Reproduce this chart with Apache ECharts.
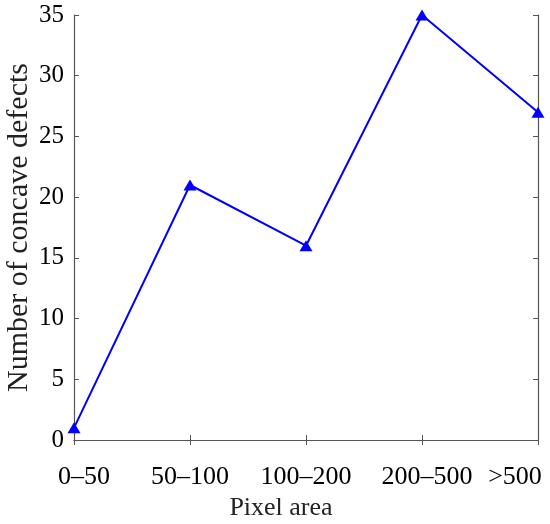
<!DOCTYPE html>
<html><head><meta charset="utf-8">
<script src="https://cdn.jsdelivr.net/npm/echarts@6/dist/echarts.min.js"></script>
<style>html,body{margin:0;padding:0;background:#fff}#c{width:550px;height:524px}</style>
</head><body><div id="c"></div>
<script>
const categories = ['0–50', '50–100', '100–200', '200–500', '>500'];
const defects = [1, 21, 16, 35, 27];
const yTicks = [0, 5, 10, 15, 20, 25, 30, 35];

const font = 'Liberation Serif';
const axisColor = '#555';
const labelStyle = { color: '#000', fontFamily: font, fontSize: 26 };
const chart = echarts.init(document.getElementById('c'));
chart.setOption({
  animation: false,
  grid: { left: 74, right: 12, top: 15, bottom: 84, containLabel: false, outerBoundsMode: 'none' },
  xAxis: [{
    type: 'category', data: categories, boundaryGap: false,
    axisLine: { lineStyle: { color: axisColor, width: 1.2 } },
    axisTick: { inside: true, length: 5, interval: 0, lineStyle: { color: axisColor } },
    axisLabel: Object.assign({}, labelStyle, {
      margin: 24, interval: 0, hideOverlap: false,
      formatter: function (v, i) {
        if (i === 0) return '{first|' + v + '}';
        if (i === categories.length - 1) return '{last|' + v + '}';
        if (i === 3) return '{mid|' + v + '}';
        return v;
      },
      rich: {
        first: Object.assign({}, labelStyle, { padding: [0, 0, 0, 20] }),
        mid: Object.assign({}, labelStyle, { padding: [0, 0, 0, 10] }),
        last: Object.assign({}, labelStyle, { padding: [0, 46, 0, 0] })
      }
    }),
    splitLine: { show: false },
    name: 'Pixel area', nameLocation: 'middle', nameGap: 55, nameMoveOverlap: false,
    nameTextStyle: { color: '#222', fontFamily: font, fontSize: 26, padding: [0, 50, 0, 0] }
  }, {
    type: 'category', data: categories, boundaryGap: false, position: 'top',
    axisLine: { lineStyle: { color: axisColor, width: 1.2 } },
    axisTick: { inside: true, length: 5, interval: 0, lineStyle: { color: axisColor } },
    axisLabel: { show: false }, splitLine: { show: false }
  }],
  yAxis: [{
    type: 'value', min: yTicks[0], max: yTicks[yTicks.length - 1], interval: 5,
    axisLine: { show: true, lineStyle: { color: axisColor, width: 1.2 } },
    axisTick: { show: true, inside: true, length: 5, lineStyle: { color: axisColor } },
    axisLabel: { color: '#000', fontFamily: font, fontSize: 25, margin: 10 },
    splitLine: { show: false },
    name: 'Number of concave defects', nameLocation: 'middle', nameGap: 40, nameMoveOverlap: false,
    nameTextStyle: { color: '#222', fontFamily: font, fontSize: 30 }
  }, {
    type: 'value', min: yTicks[0], max: yTicks[yTicks.length - 1], interval: 5, position: 'right',
    axisLine: { show: true, lineStyle: { color: axisColor, width: 1.2 } },
    axisTick: { show: true, inside: true, length: 5, lineStyle: { color: axisColor } },
    axisLabel: { show: false }, splitLine: { show: false }
  }],
  series: [{
    type: 'line', data: defects, xAxisIndex: 0, yAxisIndex: 0,
    symbol: 'triangle', symbolSize: [13, 11], clip: false,
    lineStyle: { color: '#0000ff', width: 2 },
    itemStyle: { color: '#0000ff', borderWidth: 0 }
  }]
});
</script></body></html>
